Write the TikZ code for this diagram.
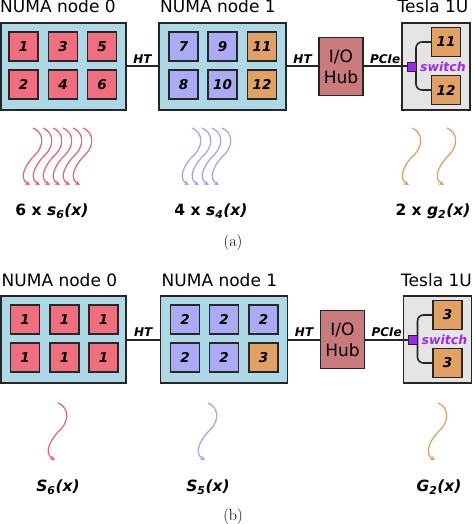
\documentclass[tikz,border=0pt]{standalone}
\usepackage{fontspec}
\setmainfont{DejaVu Sans}
\newfontfamily\capfont{Latin Modern Roman}
\usetikzlibrary{arrows.meta}
\definecolor{cred}{RGB}{240,110,125}
\definecolor{cblue}{RGB}{170,170,245}
\definecolor{corange}{RGB}{225,160,100}
\definecolor{numafill}{RGB}{173,216,230}
\definecolor{hubfill}{RGB}{200,122,125}
\definecolor{teslafill}{RGB}{229,229,229}
\definecolor{swpurple}{RGB}{160,40,240}
\definecolor{wred}{RGB}{235,95,115}
\definecolor{wblue}{RGB}{160,160,245}
\definecolor{worange}{RGB}{225,155,90}
\newcommand\wavy[3]{\draw[wave,#1,shift={(#2,#3)}] (0,0) .. controls (10,4) and (12,16) .. (3,26) .. controls (-7,35) and (-15,50) .. (-3,57);}
\begin{document}
\begin{tikzpicture}[x=1pt,y=-1pt,
  numa/.style={draw=black!85, line width=1.8pt, fill=numafill, inner sep=0pt},
  core/.style={draw=black!85, line width=1.3pt, minimum size=29pt, inner sep=0pt,
    font=\fontsize{13.5}{13.5}\selectfont\bfseries\itshape},
  hub/.style={draw=black!85, line width=1.5pt, fill=hubfill, minimum width=44pt,
    minimum height=58pt, inner sep=0pt, align=center, font=\fontsize{17}{21}\selectfont},
  tesla/.style={draw=black!85, line width=1.8pt, fill=teslafill, minimum width=68pt,
    minimum height=87pt, inner sep=0pt},
  sw/.style={draw=black!85, line width=0.8pt, fill=swpurple, minimum size=9pt, inner sep=0pt},
  swlab/.style={text=swpurple, font=\fontsize{12.5}{13}\selectfont\bfseries\itshape, inner sep=1pt},
  title/.style={font=\fontsize{17}{18}\selectfont, inner sep=0pt},
  link/.style={draw=black!85, line width=2pt},
  branch/.style={draw=black!85, line width=1.6pt, rounded corners=6pt},
  lab/.style={font=\fontsize{12}{12}\selectfont\bfseries\itshape, inner sep=2pt},
  fn/.style={font=\fontsize{15.5}{16}\selectfont\bfseries},
  captext/.style={font=\capfont\fontsize{16}{17}\selectfont},
  wave/.style={line width=1.2pt, -{Stealth[length=5pt,width=4.5pt]}}]
\useasboundingbox (0,0) rectangle (474,524);

% ================= panel (a) =================
\node[title, anchor=base west] (at0) at (0,13) {NUMA node 0};
\node[title, anchor=base west] (at1) at (160,13) {NUMA node 1};
\node[title, anchor=base] (at2) at (433,13) {Tesla 1U};
\node[numa, minimum width=125pt, minimum height=87pt] (an0) at (63.5,66.5) {};
\node[numa, minimum width=127pt, minimum height=87pt] (an1) at (222.5,66.5) {};
\node[hub] (ahub) at (341,66.5) {I/O\\Hub};
\node[tesla] (ates) at (436,66.5) {};
\node[core, fill=cred] (ac1) at (23.5,46.5) {1};
\node[core, fill=cred] (ac3) at (63,46.5) {3};
\node[core, fill=cred] (ac5) at (102,46.5) {5};
\node[core, fill=cred] (ac2) at (23.5,84.5) {2};
\node[core, fill=cred] (ac4) at (63,84.5) {4};
\node[core, fill=cred] (ac6) at (102,84.5) {6};
\node[core, fill=cblue] (ac7) at (183.5,46.5) {7};
\node[core, fill=cblue] (ac9) at (222.5,46.5) {9};
\node[core, fill=corange] (ac11) at (262,46.5) {11};
\node[core, fill=cblue] (ac8) at (183.5,84.5) {8};
\node[core, fill=cblue] (ac10) at (222.5,84.5) {10};
\node[core, fill=corange] (ac12) at (262,84.5) {12};
\node[core, fill=corange] (ag1) at (446,42) {11};
\node[core, fill=corange] (ag2) at (446,90) {12};
\coordinate (ajn) at (416,66.5);
\draw[branch] (ajn) |- (ag1.west);
\draw[branch] (ajn) |- (ag2.west);
\node[sw] (asw) at (411.5,66.5) {};
\node[swlab, anchor=west] (aswl) at (419,67) {switch};
\draw[link] (an0.east) -- node[lab, above] {HT} (an1.west);
\draw[link] (an1.east) -- node[lab, above] {HT} (ahub.west);
\draw[link] (ahub.east) -- node[lab, above] {PCIe} (asw.west);

\foreach \k in {0,...,5} {\wavy{wred}{33+10*\k}{128}}
\foreach \k in {0,...,3} {\wavy{wblue}{192+10*\k}{128}}
\foreach \k in {0,1} {\wavy{worange}{412+35*\k}{128}}
\node[fn] (af1) at (52,211) {6 x \textit{s\textsubscript{6}(x)}};
\node[fn] (af2) at (211,211) {4 x \textit{s\textsubscript{4}(x)}};
\node[fn] (af3) at (433,211) {2 x \textit{g\textsubscript{2}(x)}};
\node[captext] (acap) at (233,243) {(a)};

% ================= panel (b) =================
\begin{scope}[shift={(1.5,273)}]
\node[title, anchor=base west] (bt0) at (0,13) {NUMA node 0};
\node[title, anchor=base west] (bt1) at (160,13) {NUMA node 1};
\node[title, anchor=base] (bt2) at (435,13) {Tesla 1U};
\node[numa, minimum width=125pt, minimum height=87pt] (bn0) at (62,66.5) {};
\node[numa, minimum width=127pt, minimum height=87pt] (bn1) at (222.5,66.5) {};
\node[hub] (bhub) at (341,66.5) {I/O\\Hub};
\node[tesla] (btes) at (436,66.5) {};
\node[core, fill=cred] (bc1) at (23.5,46.5) {1};
\node[core, fill=cred] (bc3) at (63,46.5) {1};
\node[core, fill=cred] (bc5) at (102,46.5) {1};
\node[core, fill=cred] (bc2) at (23.5,84.5) {1};
\node[core, fill=cred] (bc4) at (63,84.5) {1};
\node[core, fill=cred] (bc6) at (102,84.5) {1};
\node[core, fill=cblue] (bc7) at (183.5,46.5) {2};
\node[core, fill=cblue] (bc9) at (222.5,46.5) {2};
\node[core, fill=cblue] (bc11) at (262,46.5) {2};
\node[core, fill=cblue] (bc8) at (183.5,84.5) {2};
\node[core, fill=cblue] (bc10) at (222.5,84.5) {2};
\node[core, fill=corange] (bc12) at (262,84.5) {3};
\node[core, fill=corange] (bg1) at (446,42) {3};
\node[core, fill=corange] (bg2) at (446,90) {3};
\coordinate (bjn) at (416,66.5);
\draw[branch] (bjn) |- (bg1.west);
\draw[branch] (bjn) |- (bg2.west);
\node[sw] (bsw) at (411.5,66.5) {};
\node[swlab, anchor=west] (bswl) at (419,67) {switch};
\draw[link] (bn0.east) -- node[lab, above] {HT} (bn1.west);
\draw[link] (bn1.east) -- node[lab, above] {HT} (bhub.west);
\draw[link] (bhub.east) -- node[lab, above] {PCIe} (bsw.west);
\end{scope}

\wavy{wred}{58}{403}
\wavy{wblue}{208}{403}
\wavy{worange}{438}{403}
\node[fn] (bf1) at (58,487) {\textit{S\textsubscript{6}(x)}};
\node[fn] (bf2) at (208,487) {\textit{S\textsubscript{5}(x)}};
\node[fn] (bf3) at (439,487) {\textit{G\textsubscript{2}(x)}};
\node[captext] (bcap) at (233,517) {(b)};
\end{tikzpicture}
\end{document}
